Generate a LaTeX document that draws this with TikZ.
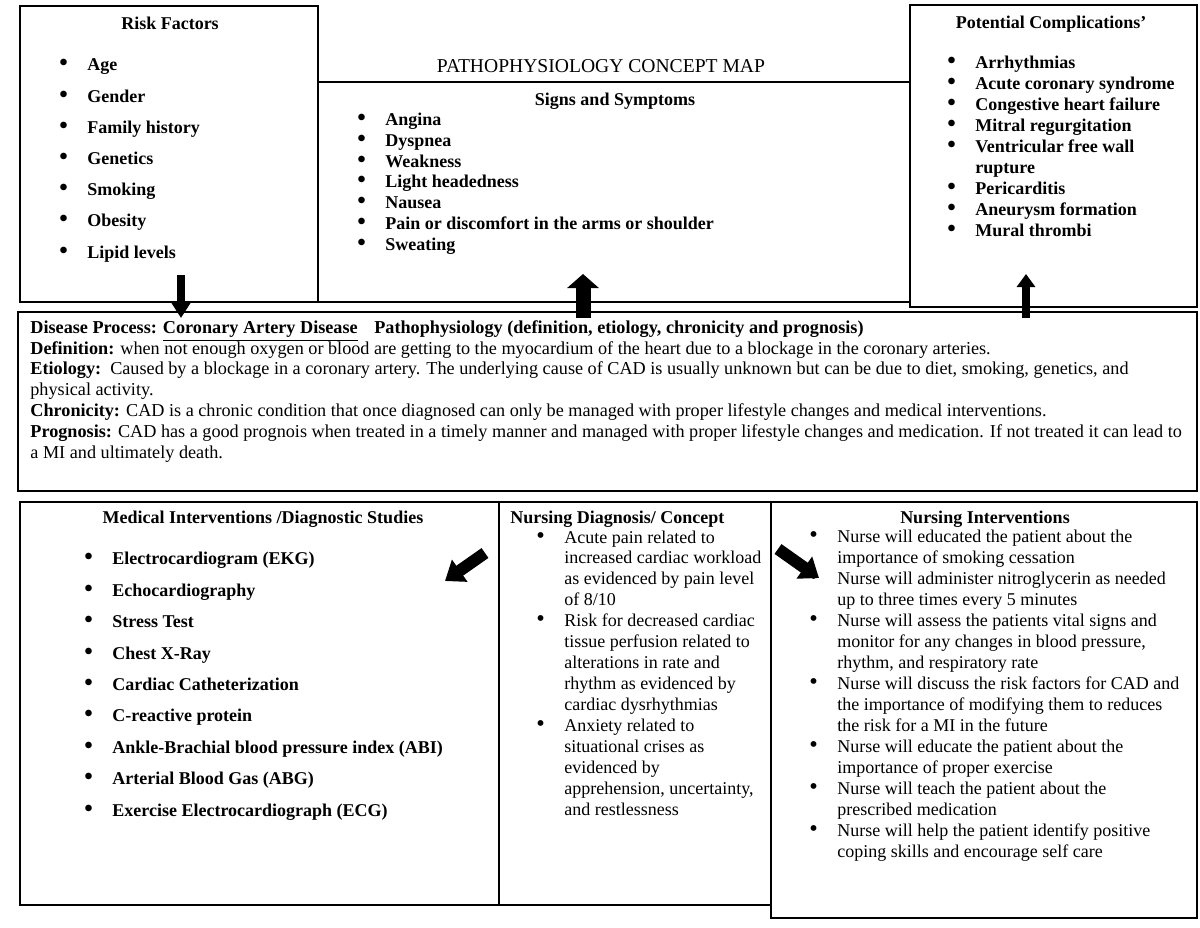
\documentclass[tikz,border=0pt]{standalone}
\usepackage{fontspec}
\setmainfont{Liberation Serif}
\usetikzlibrary{arrows.meta,fit}
\newcommand\bul{\makebox[13.75pt][l]{\hspace*{-0.3pt}\scalebox{1.35}{\textbullet}}}
\newcommand\ind{\hspace*{13.75pt}}
\newcommand\fsz[1]{\fontsize{9}{#1}\selectfont}
\begin{document}
\begin{tikzpicture}[x=0.5pt,y=-0.5pt]
\tikzset{
  box/.style={draw, line width=1pt, inner sep=0pt, fit={#1}},
  lst/.style={anchor=base west, align=left, inner sep=0pt},
  ttl/.style={anchor=base, inner sep=0pt, font=\fsz{11}\bfseries},
  fat/.style n args={3}{line width=#1, -{Triangle[width=#2,length=#3]}},
}
\fill[white] (0,0) rectangle (1200,927);
\useasboundingbox (0,0) rectangle (1200,927);

% boxes
\node[box={(20,6) (318,302)}] (risk) {};
\node[box={(318,82) (910,302)}] (signs) {};
\node[box={(910,5) (1197,307)}] (comp) {};
\node[box={(18,312) (1197,491)}] (dis) {};
\node[box={(20,502) (499,905)}] (med) {};
\node[box={(499,502) (771,905)}] (ndiag) {};
\node[box={(771,502) (1197,918)}] (nint) {};

% titles
\node[ttl] (riskT) at (170,29) {Risk Factors};
\node[ttl, font=\fontsize{9.8}{11}\selectfont] (mapT) at (601,72) {PATHOPHYSIOLOGY CONCEPT MAP};
\node[ttl] (signsT) at (615,105) {Signs and Symptoms};
\node[ttl] (compT) at (1051,28) {Potential Complications'};
\node[ttl] (medT) at (263,523) {Medical Interventions /Diagnostic Studies};
\node[ttl, anchor=base west] (ndiagT) at (510,523) {Nursing Diagnosis/ Concept};
\node[ttl] (nintT) at (985,523) {Nursing Interventions};

% lists (anchored at the baseline of their last line)
\node[lst, font=\fsz{15.6}\bfseries] (riskL) at (59.5,258) {\bul Age\\ \bul Gender\\ \bul Family history\\ \bul Genetics\\ \bul Smoking\\ \bul Obesity\\ \bul Lipid levels};

\node[lst, font=\fsz{10.35}\bfseries] (signsL) at (357.5,250) {\bul Angina\\ \bul Dyspnea\\ \bul Weakness\\ \bul Light headedness\\ \bul Nausea\\ \bul Pain or discomfort in the arms or shoulder\\ \bul Sweating};

\node[lst, font=\fsz{10.45}\bfseries] (compL) at (947.5,236) {\bul Arrhythmias\\ \bul Acute coronary syndrome\\ \bul Congestive heart failure\\ \bul Mitral regurgitation\\ \bul Ventricular free wall\\ \ind rupture\\ \bul Pericarditis\\ \bul Aneurysm formation\\ \bul Mural thrombi};

\node[lst, font=\fontsize{9.1}{10.4}\selectfont] (disL) at (30,458) {\textbf{Disease Process: \underline{Coronary Artery Disease}\hspace{6pt} Pathophysiology (definition, etiology, chronicity and prognosis)}\\
\textbf{Definition:} when not enough oxygen or blood are getting to the myocardium of the heart due to a blockage in the coronary arteries.\\
\textbf{Etiology:}\ \ Caused by a blockage in a coronary artery. The underlying cause of CAD is usually unknown but can be due to diet, smoking, genetics, and\\
physical activity.\\
\textbf{Chronicity:} CAD is a chronic condition that once diagnosed can only be managed with proper lifestyle changes and medical interventions.\\
\textbf{Prognosis:} CAD has a good prognois when treated in a timely manner and managed with proper lifestyle changes and medication. If not treated it can lead to\\
a MI and ultimately death.};

\node[lst, font=\fsz{15.7}\bfseries] (medL) at (84.5,816) {\bul Electrocardiogram (EKG)\\ \bul Echocardiography\\ \bul Stress Test\\ \bul Chest X-Ray\\ \bul Cardiac Catheterization\\ \bul C-reactive protein\\ \bul Ankle-Brachial blood pressure index (ABI)\\ \bul Arterial Blood Gas (ABG)\\ \bul Exercise Electrocardiograph (ECG)};

\node[lst, font=\fsz{10.46}] (ndiagL) at (536.5,815) {\bul Acute pain related to\\ \ind increased cardiac workload\\ \ind as evidenced by pain level\\ \ind of 8/10\\
\bul Risk for decreased cardiac\\ \ind tissue perfusion related to\\ \ind alterations in rate and\\ \ind rhythm as evidenced by\\ \ind cardiac dysrhythmias\\
\bul Anxiety related to\\ \ind situational crises as\\ \ind evidenced by\\ \ind apprehension, uncertainty,\\ \ind and restlessness};

\node[lst, font=\fsz{10.47}] (nintL) at (809.5,857) {\bul Nurse will educated the patient about the\\ \ind importance of smoking cessation\\
\bul Nurse will administer nitroglycerin as needed\\ \ind up to three times every 5 minutes\\
\bul Nurse will assess the patients vital signs and\\ \ind monitor for any changes in blood pressure,\\ \ind rhythm, and respiratory rate\\
\bul Nurse will discuss the risk factors for CAD and\\ \ind the importance of modifying them to reduces\\ \ind the risk for a MI in the future\\
\bul Nurse will educate the patient about the\\ \ind importance of proper exercise\\
\bul Nurse will teach the patient about the\\ \ind prescribed medication\\
\bul Nurse will help the patient identify positive\\ \ind coping skills and encourage self care};

% arrow end points
\coordinate (a1s) at (181,275);  \coordinate (a1e) at (181,318);
\coordinate (a2s) at (583,318);  \coordinate (a2e) at (583,274);
\coordinate (a3s) at (1026,318); \coordinate (a3e) at (1026,274);
\coordinate (a4s) at (485,553);  \coordinate (a4e) at (445,581);
\coordinate (a5s) at (778,549);  \coordinate (a5e) at (819,578);

\draw[fat={4pt}{9pt}{7.5pt}] (a1s) -- (a1e);
\draw[fat={7.5pt}{15.5pt}{7pt}] (a2s) -- (a2e);
\draw[fat={4pt}{9pt}{6.5pt}] (a3s) -- (a3e);
\draw[fat={6pt}{13pt}{9pt}] (a4s) -- (a4e);
\draw[fat={6pt}{13pt}{9pt}] (a5s) -- (a5e);
\end{tikzpicture}
\end{document}
